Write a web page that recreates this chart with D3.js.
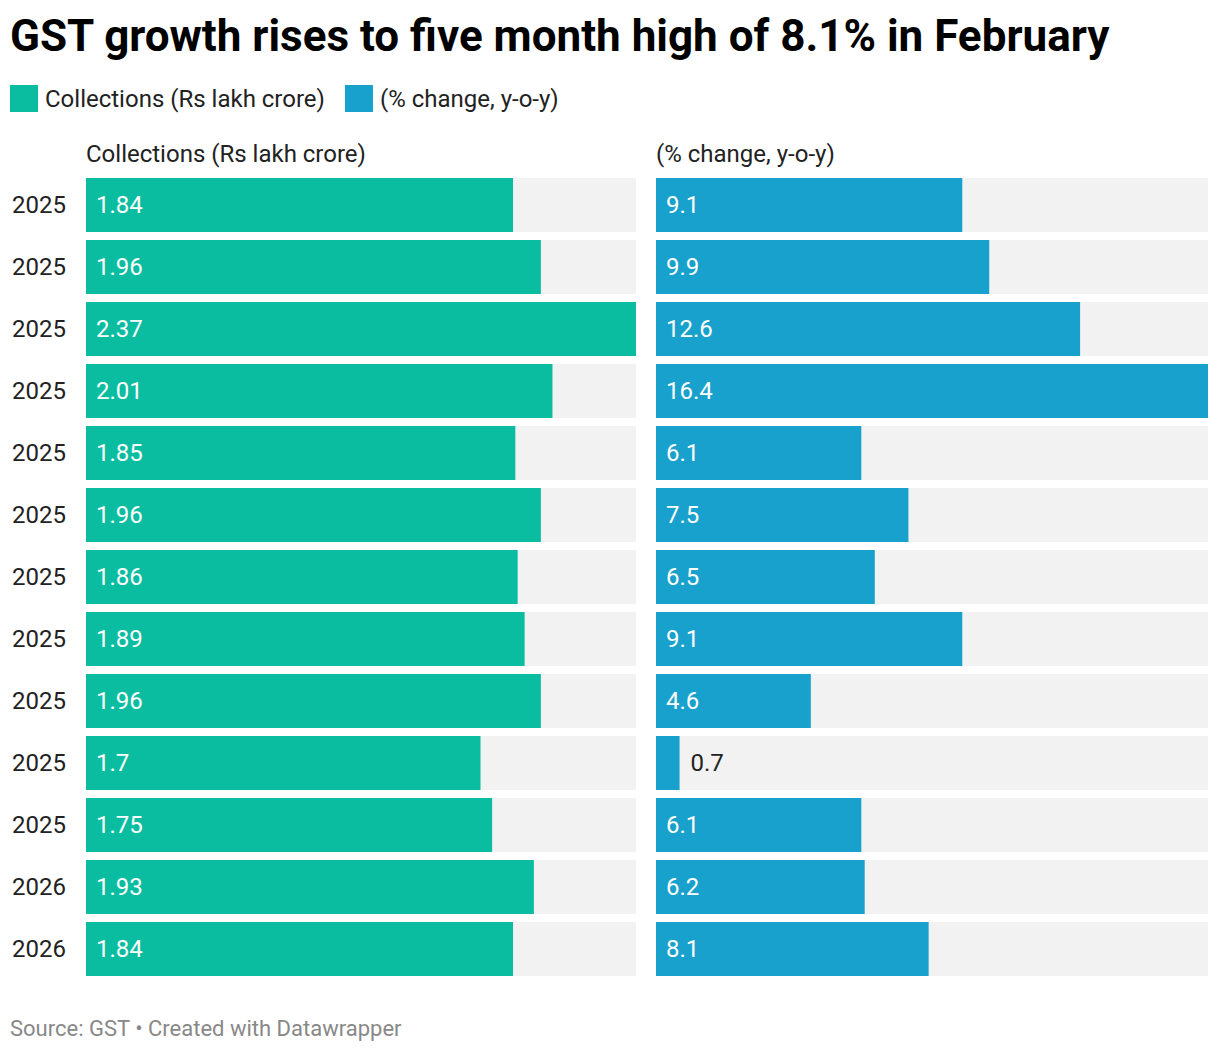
<!DOCTYPE html>
<html>

<head>
  <meta charset="utf-8">
  <script src="https://d3js.org/d3.v7.min.js"></script>
  <style>
    body {
      margin: 0;
      background: #fff;
      font-family: Roboto, sans-serif;
    }
  </style>
</head>

<body>
  <div id="chart"></div>
  <script>
    // data
    var years = ["2025", "2025", "2025", "2025", "2025", "2025", "2025", "2025", "2025", "2025", "2025", "2026", "2026"];
    var collections = [1.84, 1.96, 2.37, 2.01, 1.85, 1.96, 1.86, 1.89, 1.96, 1.7, 1.75, 1.93, 1.84];
    var pctChange = [9.1, 9.9, 12.6, 16.4, 6.1, 7.5, 6.5, 9.1, 4.6, 0.7, 6.1, 6.2, 8.1];
    var seriesNames = ["Collections (Rs lakh crore)", "(% change, y-o-y)"];
    var seriesColors = ["#0abda0", "#18a1cd"];

    var width = 1220, height = 1052;

    var svg = d3.select("#chart").append("svg")
      .attr("width", width)
      .attr("height", height);

    svg.append("text")
      .attr("x", 10)
      .attr("y", 51)
      .style("font-size", "44px")
      .style("font-weight", "bold")
      .style("fill", "#000")
      .text("GST growth rises to five month high of 8.1% in February");

    // legend
    var legendX = 10;
    seriesNames.forEach(function (name, i) {
      var g = svg.append("g").attr("transform", "translate(" + legendX + ",85)");
      g.append("rect").attr("width", 28).attr("height", 27).attr("fill", seriesColors[i]);
      var t = g.append("text")
        .attr("x", 35)
        .attr("y", 22)
        .style("font-size", "24px")
        .style("fill", "#222")
        .text(name);
      legendX += 35 + t.node().getComputedTextLength() + 20;
    });

    var y = d3.scaleBand()
      .domain(d3.range(years.length))
      .range([178, 178 + 62 * years.length - 8])
      .paddingInner(8 / 62)
      .paddingOuter(0)
      .align(0);

    // row labels
    svg.append("g").selectAll("text")
      .data(years)
      .join("text")
      .attr("x", 12)
      .attr("y", (d, i) => y(i) + y.bandwidth() / 2)
      .attr("dy", "0.35em")
      .style("font-size", "24px")
      .style("fill", "#222")
      .text(d => d);

    var panels = [
      { values: collections, x0: 86, x1: 636, color: seriesColors[0], title: seriesNames[0] },
      { values: pctChange, x0: 656, x1: 1208, color: seriesColors[1], title: seriesNames[1] }
    ];

    panels.forEach(function (p) {
      var x = d3.scaleLinear()
        .domain([0, d3.max(p.values)])
        .range([p.x0, p.x1]);

      var g = svg.append("g");

      g.append("text")
        .attr("x", p.x0)
        .attr("y", 162)
        .style("font-size", "24px")
        .style("fill", "#222")
        .text(p.title);

      g.selectAll("rect.bg")
        .data(p.values)
        .join("rect")
        .attr("class", "bg")
        .attr("x", x(0))
        .attr("y", (d, i) => y(i))
        .attr("width", x.range()[1] - x(0))
        .attr("height", y.bandwidth())
        .attr("fill", "#f2f2f2");

      g.selectAll("rect.bar")
        .data(p.values)
        .join("rect")
        .attr("class", "bar")
        .attr("x", x(0))
        .attr("y", (d, i) => y(i))
        .attr("width", d => x(d) - x(0))
        .attr("height", y.bandwidth())
        .attr("fill", p.color);

      g.selectAll("text.val")
        .data(p.values)
        .join("text")
        .attr("class", "val")
        .attr("y", (d, i) => y(i) + y.bandwidth() / 2)
        .attr("dy", "0.35em")
        .style("font-size", "24px")
        .each(function (d) {
          var inside = x(d) - x(0) > 60;
          d3.select(this)
            .attr("x", inside ? x(0) + 10 : x(d) + 11)
            .style("fill", inside ? "#fff" : "#222")
            .text(d);
        });
    });

    svg.append("text")
      .attr("x", 10)
      .attr("y", 1036)
      .style("font-size", "22px")
      .style("fill", "#888")
      .text("Source: GST \u2022 Created with Datawrapper");
  </script>
</body>

</html>
